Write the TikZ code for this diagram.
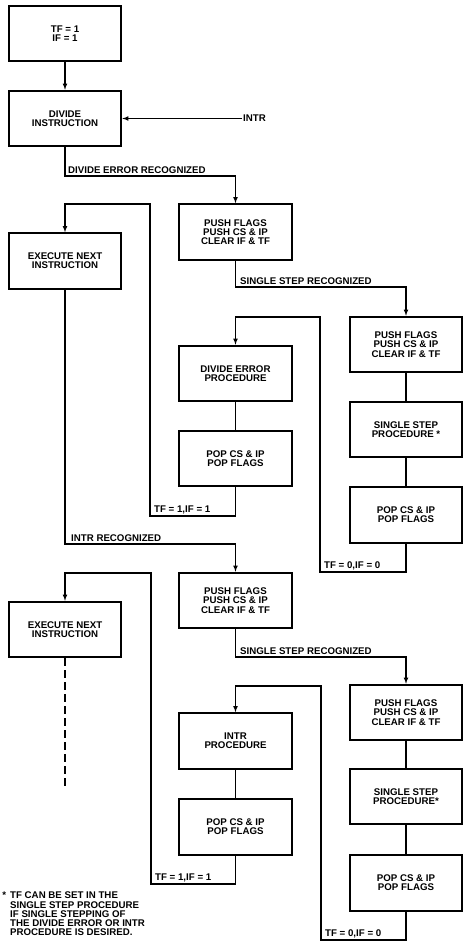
\documentclass[tikz,border=0pt]{standalone}
\usepackage{fontspec}
\setmainfont{Liberation Sans}
\usetikzlibrary{arrows,positioning}

\begin{document}
\begin{tikzpicture}[
    x=1pt, y=-1pt, >=latex,
    blk/.style={rectangle, draw, line width=2pt, minimum width=112.5pt, minimum height=55.5pt, align=center, inner sep=0pt, font=\fontsize{9.7}{9.2}\selectfont\bfseries},
    lbl/.style={inner sep=1pt, font=\fontsize{9.7}{9.2}\selectfont\bfseries},
    wire/.style={line width=1.1pt},
]
    \useasboundingbox (0,0) rectangle (474,945);

    % left column
    \node[blk] (flags) at (65, 33.5) {TF = 1\\IF = 1};
    \node[blk] (divins) at (65, 118.5) {DIVIDE\\INSTRUCTION};
    \node[blk] (exec1) at (65, 261) {EXECUTE NEXT\\INSTRUCTION};
    \node[blk] (exec2) at (65, 629.5) {EXECUTE NEXT\\INSTRUCTION};

    % middle column
    \node[blk] (push1) at (235.5, 232) {PUSH FLAGS\\PUSH CS \& IP\\CLEAR IF \& TF};
    \node[blk] (diverr) at (235.5, 373.5) {DIVIDE ERROR\\PROCEDURE};
    \node[blk] (pop1) at (235.5, 458.5) {POP CS \& IP\\POP FLAGS};
    \node[blk] (push3) at (235.5, 600.5) {PUSH FLAGS\\PUSH CS \& IP\\CLEAR IF \& TF};
    \node[blk] (intrproc) at (235.5, 741) {INTR\\PROCEDURE};
    \node[blk] (pop3) at (235.5, 827) {POP CS \& IP\\POP FLAGS};

    % right column
    \node[blk] (push2) at (406, 344.5) {PUSH FLAGS\\PUSH CS \& IP\\CLEAR IF \& TF};
    \node[blk] (sstep1) at (406, 429.5) {SINGLE STEP\\PROCEDURE *};
    \node[blk] (popr1) at (406, 515) {POP CS \& IP\\POP FLAGS};
    \node[blk] (push4) at (406, 712.5) {PUSH FLAGS\\PUSH CS \& IP\\CLEAR IF \& TF};
    \node[blk] (sstep2) at (406, 796.5) {SINGLE STEP\\PROCEDURE*};
    \node[blk] (popr2) at (406, 883) {POP CS \& IP\\POP FLAGS};

    % labels
    \node[lbl, anchor=west] (intr) at (242, 118.5) {INTR};
    \node[lbl, anchor=south west] (ldiv) at (67, 175) {DIVIDE ERROR RECOGNIZED};
    \node[lbl, anchor=south west] (lss1) at (239, 286) {SINGLE STEP RECOGNIZED};
    \node[lbl, anchor=south west] (lret1) at (153, 515) {TF = 1,IF = 1};
    \node[lbl, anchor=south west] (lret2) at (323, 571) {TF = 0,IF = 0};
    \node[lbl, anchor=south west] (lintr) at (70, 543) {INTR RECOGNIZED};
    \node[lbl, anchor=south west] (lss2) at (239, 656) {SINGLE STEP RECOGNIZED};
    \node[lbl, anchor=south west] (lret3) at (154, 883) {TF = 1,IF = 1};
    \node[lbl, anchor=south west] (lret4) at (324, 939) {TF = 0,IF = 0};
    \node[lbl, anchor=north west, align=left] (note) at (9, 891) {\llap{*\hspace{4pt}}TF CAN BE SET IN THE\\SINGLE STEP PROCEDURE\\IF SINGLE STEPPING OF\\THE DIVIDE ERROR OR INTR\\PROCEDURE IS DESIRED.};

    % connectors
    \draw[wire,->] (flags) -- (divins);
    \draw[wire,->] (intr) -- (divins.east);
    \draw[wire,->] (divins.south) -- (65,176) -| (push1.north);
    \draw[wire,->] (push1.south) -- (235.5,287) -| (push2.north);
    \draw[wire] (push2) -- (sstep1) -- (popr1);
    \draw[wire] (diverr) -- (pop1);
    \draw[wire,->] (pop1.south) |- (150,516) -- (150,204) -| (exec1.north);
    \draw[wire,->] (popr1.south) |- (320,572) -- (320,317) -| (diverr.north);
    \draw[wire,->] (exec1.south) -- (65,544) -| (push3.north);
    \draw[wire,->] (push3.south) -- (235.5,657) -| (push4.north);
    \draw[wire] (push4) -- (sstep2) -- (popr2);
    \draw[wire] (intrproc) -- (pop3);
    \draw[wire,->] (pop3.south) |- (151,884) -- (151,573) -| (exec2.north);
    \draw[wire,->] (popr2.south) |- (321,940) -- (321,686) -| (intrproc.north);
    \draw[wire, dash pattern=on 8pt off 4pt] (exec2.south) -- (65,789);
\end{tikzpicture}
\end{document}
